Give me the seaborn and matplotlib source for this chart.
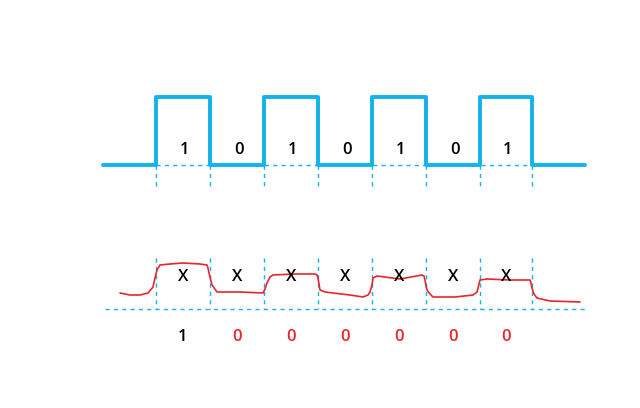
import matplotlib
matplotlib.use("Agg")
import matplotlib.pyplot as plt
import seaborn as sns
import numpy as np

sns.set_theme(style="white")
plt.rcParams['font.family'] = ['Open Sans', 'DejaVu Sans']

BLUE = "#12b2ea"
RED = "#e8262d"

# bit boundaries (pixel-like coordinates)
edges = [103, 156, 210, 264, 318, 372, 426, 480, 532, 585]
levels = [165, 97, 165, 97, 165, 97, 165, 97, 165, 165]  # low=165, high=97
top_bits = ["1", "0", "1", "0", "1", "0", "1"]
x_labels = ["X"] * 7
bottom_bits = ["1", "0", "0", "0", "0", "0", "0"]
bottom_colors = ["black"] + [RED] * 6

red_x = [120, 130, 140, 148, 153, 155, 157, 160, 170, 183, 200, 207, 208, 209, 212, 217, 240, 263, 265, 267, 270, 273, 295, 315, 317, 318, 319, 320, 325, 333, 350, 363, 368,
         370, 372, 373, 377, 400, 422, 424, 425, 426, 427, 430, 433, 455, 473, 477, 478, 480, 487, 510, 530, 531, 532, 534, 537, 550, 580]
red_y = [293, 295, 295, 293, 287, 278, 270, 265, 264, 263, 264, 265, 268, 273, 285, 292, 292, 293, 289, 283, 277, 275, 274, 274, 275, 278, 284, 290, 292, 293, 295, 297, 295,
         292, 285, 278, 276, 279, 275, 276, 280, 286, 290, 294, 297, 297, 295, 292, 288, 280, 279, 280, 280, 283, 288, 294, 298, 301, 302]

fig = plt.figure(figsize=(6.4, 4.08), dpi=100)
ax = fig.add_axes([0, 0, 1, 1])
ax.set_xlim(0, 640)
ax.set_ylim(408, 0)
ax.axis("off")

bounds = edges[1:-1]
# dashed guides
ax.hlines(165, bounds[0], bounds[-1], colors=BLUE, linestyles=(0, (3, 3)), lw=1)
ax.vlines(bounds, 165, 188, colors=BLUE, linestyles=(0, (3, 3)), lw=1)
ax.vlines(bounds, 258, 309, colors=BLUE, linestyles=(0, (3, 3)), lw=1)
ax.hlines(309, 105, 585, colors=BLUE, linestyles=(0, (3, 3)), lw=1)

sns.lineplot(x=edges, y=levels, drawstyle="steps-post", color=BLUE, lw=2.8, ax=ax, sort=False)
sns.lineplot(x=red_x, y=red_y, color=RED, lw=1.2, ax=ax, sort=False)

mids = [(a + b) / 2 for a, b in zip(bounds[:-1], bounds[1:])]
for i, m in enumerate(mids):
    ax.text(m + 2, 150, top_bits[i], ha="center", va="center", fontsize=12,
            fontweight="semibold", color="black")
    ax.text(m, 277, x_labels[i], ha="center", va="center", fontsize=12,
            fontweight="semibold", color="black")
    ax.text(m, 337, bottom_bits[i], ha="center", va="center", fontsize=12,
            fontweight="semibold", color=bottom_colors[i])

fig.savefig("out.png", dpi=100)
